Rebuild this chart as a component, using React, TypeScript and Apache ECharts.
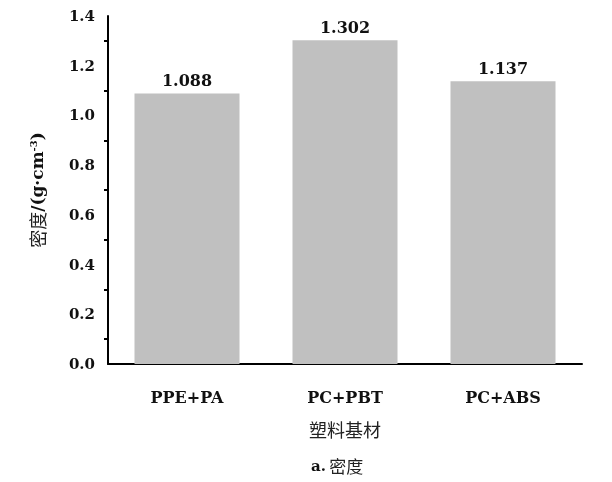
import { useEffect, useRef } from "react";
import * as echarts from "echarts";

const categories = ["PPE+PA", "PC+PBT", "PC+ABS"];
const density = [1.088, 1.302, 1.137];

const serif = "'DejaVu Serif', 'Liberation Serif', serif";
const cjk = "'Noto Sans CJK SC', sans-serif";

export default function App() {
  const chartRef = useRef(null);

  useEffect(() => {
    const chart = echarts.init(chartRef.current, null, { renderer: "svg" });

    const options = {
      animation: false,
      grid: { left: 108, right: 30, top: 16, bottom: 118 },
      xAxis: [
        {
          type: "category",
          data: categories,
          position: "bottom",
          axisLine: { lineStyle: { color: "#000", width: 2 } },
          axisTick: {
            alignWithLabel: true,
            length: 8,
            lineStyle: { color: "#000", width: 2 },
          },
          axisLabel: {
            margin: 25,
            fontFamily: serif,
            fontWeight: "bold",
            fontSize: 16,
            color: "#111",
          },
          name: "塑料基材",
          nameLocation: "middle",
          nameGap: 56,
          nameTextStyle: { fontFamily: cjk, fontSize: 18, color: "#222" },
        },
        {
          type: "category",
          data: categories,
          position: "bottom",
          axisLine: { show: false },
          axisTick: { length: 4, lineStyle: { color: "#000", width: 2 } },
          axisLabel: { show: false },
        },
      ],
      yAxis: {
        type: "value",
        min: 0,
        max: 1.4,
        interval: 0.2,
        splitLine: { show: false },
        axisLine: { show: true, lineStyle: { color: "#000", width: 2 } },
        axisTick: { length: 8, lineStyle: { color: "#000", width: 2 } },
        minorTick: {
          show: true,
          splitNumber: 2,
          length: 4,
          lineStyle: { color: "#000", width: 2 },
        },
        axisLabel: {
          margin: 13,
          fontFamily: serif,
          fontWeight: "bold",
          fontSize: 15,
          color: "#111",
          formatter: (v: number) => v.toFixed(1),
        },
        name: "{c|密度}{l|/(g·cm}{s|-3}{l|)}",
        nameLocation: "middle",
        nameGap: 62,
        nameRotate: 90,
        nameTextStyle: {
          rich: {
            c: { fontFamily: cjk, fontSize: 18, color: "#222" },
            l: { fontFamily: serif, fontWeight: "bold", fontSize: 17, color: "#111" },
            s: {
              fontFamily: serif,
              fontWeight: "bold",
              fontSize: 10,
              color: "#111",
              verticalAlign: "top",
            },
          },
        },
      },
      graphic: [
        {
          type: "text",
          left: 311,
          top: 457,
          style: {
            text: "{a|a.} {b|密度}",
            rich: {
              a: { fontFamily: serif, fontWeight: "bold", fontSize: 15, fill: "#111" },
              b: { fontFamily: cjk, fontSize: 17, fill: "#222" },
            },
          },
        },
      ],
      series: [
        {
          type: "bar",
          data: density,
          barWidth: 105,
          itemStyle: { color: "#c0c0c0" },
          label: {
            show: true,
            position: "top",
            distance: 5,
            fontFamily: serif,
            fontWeight: "bold",
            fontSize: 16,
            color: "#111",
            formatter: (p: { value: number }) => p.value.toFixed(3),
          },
        },
      ],
    };

    chart.setOption(options);

    return () => {
      chart.dispose();
    };
  }, []);

  return (
    <div
      ref={chartRef}
      style={{ position: "fixed", left: 0, top: 0, width: "612px", height: "482px" }}
    />
  );
}
